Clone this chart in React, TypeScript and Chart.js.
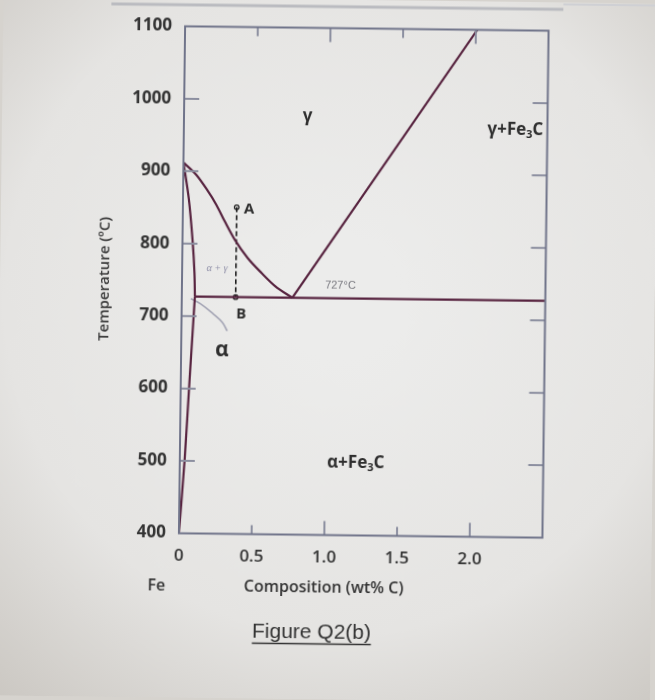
import React, { useEffect, useRef } from "react";
import { Chart, registerables } from "chart.js";

Chart.register(...registerables);

// ---------- data ----------
const xTickValues = [0, 0.5, 1.0, 1.5, 2.0];
const xMin = 0;
const xMax = 2.5;
const yMin = 400;
const yMax = 1100;
const yTickValues = [400, 500, 600, 700, 800, 900, 1000, 1100];

const eutectoidLine = [
  { x: 0.09, y: 727 },
  { x: 2.5, y: 727 },
];
const acmLine = [
  { x: 0.76, y: 727 },
  { x: 2.01, y: 1100 },
];
const a3Curve = [
  { x: 0, y: 912 },
  { x: 0.09, y: 895 },
  { x: 0.16, y: 876 },
  { x: 0.23, y: 854 },
  { x: 0.29, y: 831 },
  { x: 0.36, y: 806 },
  { x: 0.45, y: 781 },
  { x: 0.55, y: 760 },
  { x: 0.64, y: 743 },
  { x: 0.76, y: 727 },
];
const alphaBoundary = [
  { x: 0, y: 912 },
  { x: 0.04, y: 862 },
  { x: 0.07, y: 803 },
  { x: 0.085, y: 760 },
  { x: 0.09, y: 727 },
];
const solvusLine = [
  { x: 0.09, y: 727 },
  { x: 0.06, y: 610 },
  { x: 0.034, y: 504 },
  { x: 0, y: 400 },
];
const grayArc = [
  { x: 0.062, y: 724 },
  { x: 0.13, y: 717 },
  { x: 0.22, y: 703 },
  { x: 0.28, y: 692 },
  { x: 0.315, y: 680 },
];
const alloyLine = [
  { x: 0.37, y: 851 },
  { x: 0.37, y: 727 },
];

// region / point labels: text parts, anchor in data units, kind
const regionLabels = [
  { parts: [{ t: "γ" }], x: 0.85, y: 978, kind: "region" },
  { parts: [{ t: "γ+Fe" }, { t: "3", sub: true }, { t: "C" }], x: 2.28, y: 963, kind: "region" },
  { parts: [{ t: "α+Fe" }, { t: "3", sub: true }, { t: "C" }], x: 1.21, y: 500, kind: "region" },
  { parts: [{ t: "α" }], x: 0.28, y: 653, kind: "alpha" },
  { parts: [{ t: "A" }], x: 0.455, y: 849, kind: "point" },
  { parts: [{ t: "B" }], x: 0.41, y: 703, kind: "point" },
  { parts: [{ t: "α + γ" }], x: 0.24, y: 766, kind: "small" },
  { parts: [{ t: "727°C" }], x: 1.09, y: 744, kind: "temp" },
];

const yTitle = "Temperature (ºC)";
const xTitle = "Composition (wt% C)";
const xTitleAt = 1.0;
const originLabel = "Fe";
const originLabelAt = -0.15;
const figureCaption = "Figure Q2(b)";
const figureCaptionAt = 0.92;

// ---------- styles ----------
const LINE = "#57233f";
const TEXT = "#333333";
const FRAME = "#70748a";
const TICK = "#8c8fa0";

const labelStyles: Record<string, { font: string; color: string }> = {
  region: { font: "bold 17px 'Open Sans'", color: "#2e2e2e" },
  alpha: { font: "bold 21px 'Open Sans'", color: "#2e2e2e" },
  point: { font: "bold 15px 'Open Sans'", color: "#2e2e2e" },
  small: { font: "italic 10px 'Liberation Serif'", color: "#8a8aa4" },
  temp: { font: "11px 'Liberation Sans'", color: "#7a7a80" },
};

function drawParts(ctx: CanvasRenderingContext2D, parts: any[], font: string, cx: number, cy: number) {
  const subFont = font.replace(/(\d+)px/, (_m, s) => `${Math.round(Number(s) * 0.62)}px`);
  let total = 0;
  const widths = parts.map((p) => {
    ctx.font = p.sub ? subFont : font;
    const w = ctx.measureText(p.t).width;
    total += w;
    return w;
  });
  let x = cx - total / 2;
  ctx.textAlign = "left";
  ctx.textBaseline = "middle";
  parts.forEach((p, i) => {
    ctx.font = p.sub ? subFont : font;
    ctx.fillText(p.t, x, p.sub ? cy + 5 : cy);
    x += widths[i];
  });
}

const backgroundPlugin = {
  id: "photoBackground",
  beforeDraw(chart: any) {
    const { ctx, width, height } = chart;
    ctx.save();
    const g = ctx.createRadialGradient(340, 300, 60, 340, 300, 560);
    g.addColorStop(0, "#ececeb");
    g.addColorStop(0.55, "#e5e4e2");
    g.addColorStop(1, "#c6c2bc");
    ctx.fillStyle = g;
    ctx.fillRect(0, 0, width, height);
    ctx.strokeStyle = "#babbc0";
    ctx.lineWidth = 3;
    ctx.beginPath();
    ctx.moveTo(108, 7);
    ctx.lineTo(560, 7);
    ctx.stroke();
    ctx.strokeStyle = "#cfd0d4";
    ctx.lineWidth = 2;
    ctx.beginPath();
    ctx.moveTo(560, 2);
    ctx.lineTo(655, 2);
    ctx.stroke();
    ctx.restore();
  },
};

const framePlugin = {
  id: "frameAndTicks",
  afterDatasetsDraw(chart: any) {
    const { ctx, chartArea, scales } = chart;
    const { left, right, top, bottom } = chartArea;
    const xs = scales.x;
    const ys = scales.y;
    ctx.save();
    ctx.strokeStyle = TICK;
    ctx.lineWidth = 2;
    yTickValues
      .filter((v) => v > yMin && v < yMax)
      .forEach((v) => {
        const py = ys.getPixelForValue(v);
        ctx.beginPath();
        ctx.moveTo(left, py);
        ctx.lineTo(left + 15, py);
        ctx.moveTo(right - 15, py);
        ctx.lineTo(right, py);
        ctx.stroke();
      });
    xTickValues
      .filter((v) => v > xMin)
      .forEach((v) => {
        const px = xs.getPixelForValue(v);
        const len = Number.isInteger(v) ? 14 : 9;
        ctx.beginPath();
        ctx.moveTo(px, top);
        ctx.lineTo(px, top + len);
        ctx.moveTo(px, bottom);
        ctx.lineTo(px, bottom - len);
        ctx.stroke();
      });
    ctx.strokeStyle = FRAME;
    ctx.lineWidth = 2;
    ctx.strokeRect(left, top, right - left, bottom - top);

    regionLabels.forEach((l) => {
      const st = labelStyles[l.kind];
      ctx.fillStyle = st.color;
      drawParts(ctx, l.parts, st.font, xs.getPixelForValue(l.x), ys.getPixelForValue(l.y));
    });
    ctx.restore();
  },
  afterDraw(chart: any) {
    const { ctx, chartArea, scales } = chart;
    const xs = scales.x;
    const b = chartArea.bottom;
    ctx.save();
    ctx.fillStyle = TEXT;
    ctx.textBaseline = "middle";
    ctx.textAlign = "center";
    ctx.font = "600 16px 'Open Sans'";
    ctx.fillText(originLabel, xs.getPixelForValue(originLabelAt), b + 53);
    ctx.fillText(xTitle, xs.getPixelForValue(xTitleAt), b + 53);
    ctx.font = "21px 'Liberation Sans'";
    const cx = xs.getPixelForValue(figureCaptionAt);
    const cy = b + 98;
    ctx.fillText(figureCaption, cx, cy);
    const w = ctx.measureText(figureCaption).width;
    ctx.strokeStyle = TEXT;
    ctx.lineWidth = 1.5;
    ctx.beginPath();
    ctx.moveTo(cx - w / 2, cy + 11);
    ctx.lineTo(cx + w / 2, cy + 11);
    ctx.stroke();
    ctx.restore();
  },
};

function lineSet(data: any[], extra: any = {}) {
  return {
    data,
    showLine: true,
    borderColor: LINE,
    borderWidth: 2.2,
    pointRadius: 0,
    tension: 0,
    fill: false,
    ...extra,
  };
}

export default function App() {
  const ref = useRef<HTMLCanvasElement | null>(null);

  useEffect(() => {
    document.body.style.margin = "0";
    document.body.style.overflow = "hidden";
    document.body.style.background = "#d6d3ce";
    document.documentElement.style.overflow = "hidden";
    if (!ref.current) return;
    const chart = new Chart(ref.current, {
      type: "scatter",
      data: {
        datasets: [
          lineSet(eutectoidLine),
          lineSet(acmLine),
          lineSet(a3Curve, { cubicInterpolationMode: "monotone" }),
          lineSet(alphaBoundary, { tension: 0.3 }),
          lineSet(solvusLine, { tension: 0.2 }),
          lineSet(grayArc, { borderColor: "#a3a4b4", borderWidth: 1.6, tension: 0.4 }),
          lineSet(alloyLine, {
            borderColor: "#1e1e1e",
            borderWidth: 1.6,
            borderDash: [5, 3],
            pointRadius: 2.3,
            pointBorderWidth: 1.2,
            pointBorderColor: "#1e1e1e",
            pointBackgroundColor: "rgba(0,0,0,0)",
          }),
        ],
      },
      options: {
        animation: false,
        responsive: false,
        events: [],
        layout: { padding: { left: 92, right: 109.5, top: 28.5, bottom: 0 } },
        plugins: {
          legend: { display: false },
          tooltip: { enabled: false },
          title: { display: false },
        },
        scales: {
          x: {
            type: "linear",
            min: xMin,
            max: xMax,
            afterBuildTicks: (scale: any) => {
              scale.ticks = xTickValues.map((v) => ({ value: v }));
            },
            afterFit: (scale: any) => {
              scale.height = 164.5;
            },
            grid: { display: false, drawTicks: false },
            border: { display: false },
            ticks: {
              padding: 12,
              color: TEXT,
              font: { family: "'Open Sans'", size: 17, weight: "600" },
              maxRotation: 0,
              autoSkip: false,
              callback: (v: any) => (Number(v) === 0 ? "0" : Number(v).toFixed(1)),
            },
          },
          y: {
            type: "linear",
            min: yMin,
            max: yMax,
            afterBuildTicks: (scale: any) => {
              scale.ticks = yTickValues.map((v) => ({ value: v }));
            },
            afterFit: (scale: any) => {
              scale.width = 90;
            },
            grid: { display: false, drawTicks: false },
            border: { display: false },
            ticks: {
              padding: 13,
              color: TEXT,
              font: { family: "'Open Sans'", size: 17, weight: "700" },
              callback: (v: any) => String(v),
            },
            title: {
              display: true,
              text: yTitle,
              color: "#3a3a3a",
              font: { family: "'Open Sans'", size: 15, weight: "600" },
              padding: { top: 4, bottom: 0 },
            },
          },
        },
      },
      plugins: [backgroundPlugin, framePlugin],
    } as any);
    return () => chart.destroy();
  }, []);

  return (
    <div style={{ width: 655, height: 700, overflow: "hidden", background: "#d6d3ce" }}>
      <canvas
        ref={ref}
        width={655}
        height={700}
        style={{
          width: 655,
          height: 700,
          display: "block",
          transform: "rotate(0.7deg)",
          transformOrigin: "364px 282px",
        }}
      />
    </div>
  );
}
